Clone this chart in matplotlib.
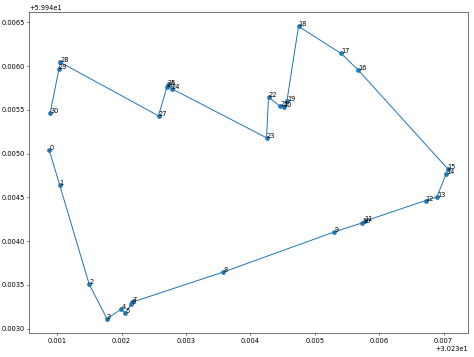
import matplotlib
matplotlib.use("Agg")
import matplotlib.pyplot as plt

x_base = 30.23
y_base = 59.94
x_off = [0.000876, 0.001036, 0.001497, 0.001772, 0.001994, 0.002056, 0.002149, 0.002169,
         0.003578, 0.005301, 0.005731, 0.005772, 0.006719, 0.006896, 0.007039, 0.007064,
         0.005674, 0.005405, 0.004747, 0.004567, 0.004514, 0.004463, 0.004281, 0.004250,
         0.002781, 0.002713, 0.002703, 0.002573, 0.001051, 0.001026, 0.000891]
y_off = [0.005039, 0.004646, 0.003506, 0.003113, 0.003220, 0.003174, 0.003277, 0.003303,
         0.003646, 0.004104, 0.004207, 0.004227, 0.004463, 0.004505, 0.004768, 0.004825,
         0.005954, 0.006145, 0.006454, 0.005603, 0.005531, 0.005539, 0.005645, 0.005180,
         0.005740, 0.005779, 0.005760, 0.005431, 0.006042, 0.005962, 0.005466]
xs = [x_base + v for v in x_off]
ys = [y_base + v for v in y_off]
labels = [str(i) for i in range(len(xs))]

fig = plt.figure(figsize=(10, 357 / 47.4), dpi=47.4)
ax = fig.add_axes([0.0618, 0.0664, 0.9867 - 0.0618, 0.9672 - 0.0664])
ax.plot(xs, ys, marker='o')
for xv, yv, lab in zip(xs, ys, labels):
    ax.text(xv, yv, lab)
fig.savefig("out.png", dpi=47.4)
